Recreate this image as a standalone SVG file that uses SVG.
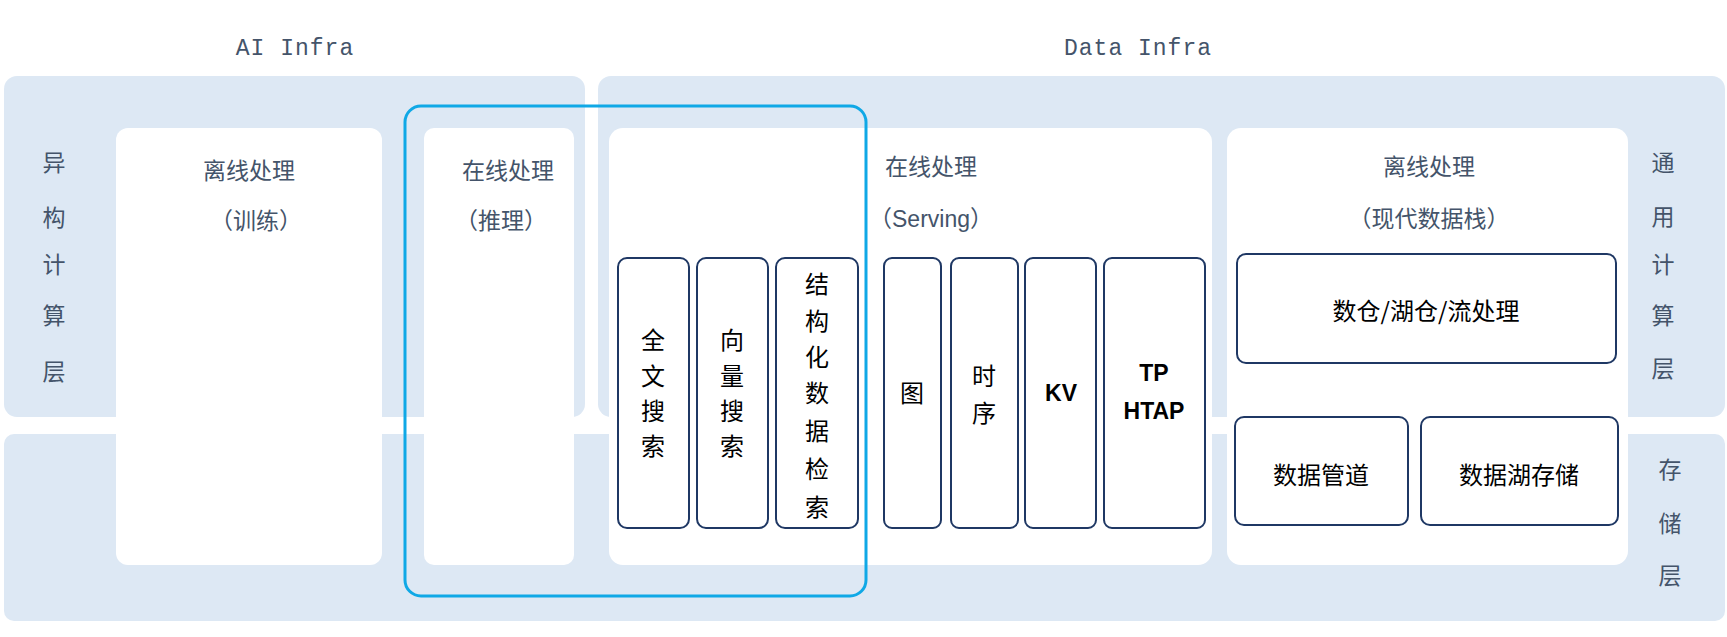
<svg xmlns="http://www.w3.org/2000/svg" width="1727" height="637" viewBox="0 0 1727 637">
<style>
.band{fill:#dde8f4}
.panel{fill:#fff}
.box{fill:#fff;stroke:#1f3864;stroke-width:2}
.lbl{font-family:"Liberation Sans","Noto Sans CJK SC",sans-serif;font-size:23px;fill:#44546a;text-anchor:middle}
.hd{font-family:"Liberation Mono","Noto Sans CJK SC",monospace;font-size:23px;fill:#44546a;text-anchor:middle;letter-spacing:1px}
.t{font-family:"Noto Sans CJK SC",sans-serif;font-size:24px;fill:#000;text-anchor:middle}
.b{font-family:"Liberation Sans",sans-serif;font-size:23px;font-weight:bold;fill:#000;text-anchor:middle}
</style>
<rect width="1727" height="637" fill="#fff"/>
<g id="bands">
<rect class="band" x="4" y="76" width="581" height="341" rx="13"/>
<rect class="band" x="598" y="76" width="1127" height="341" rx="13"/>
<rect class="band" x="4" y="434" width="1721" height="187" rx="10"/>
</g>
<text class="hd" x="295" y="55">AI Infra</text>
<text class="hd" x="1138" y="55">Data Infra</text>
<g id="left-label" class="lbl">
<text x="54" y="171">异</text><text x="54" y="226">构</text><text x="54" y="273">计</text><text x="54" y="324">算</text><text x="54" y="380">层</text>
</g>
<g id="right-label" class="lbl">
<text x="1663" y="171">通</text><text x="1663" y="225">用</text><text x="1663" y="273">计</text><text x="1663" y="324">算</text><text x="1663" y="377">层</text>
<text x="1670" y="478">存</text><text x="1670" y="532">储</text><text x="1670" y="584">层</text>
</g>
<g id="ai-offline"><rect class="panel" x="116" y="128" width="266" height="437" rx="12"/>
<text class="lbl" x="249" y="179">离线处理</text><text class="lbl" x="256" y="229">（训练）</text></g>
<g id="ai-online"><rect class="panel" x="424" y="128" width="150" height="437" rx="10"/>
<text class="lbl" x="508" y="179">在线处理</text><text class="lbl" x="501" y="229">（推理）</text></g>
<g id="data-online"><rect class="panel" x="609" y="128" width="603" height="437" rx="14"/>
<text class="lbl" x="931" y="175">在线处理</text><text class="lbl" x="931" y="227">（Serving）</text></g>
<g id="data-offline"><rect class="panel" x="1227" y="128" width="401" height="437" rx="14"/>
<text class="lbl" x="1429" y="175">离线处理</text><text class="lbl" x="1429" y="227">（现代数据栈）</text></g>
<g id="fulltext"><rect class="box" x="618" y="258" width="71" height="270" rx="9"/>
<text class="t" x="653" y="349">全</text><text class="t" x="653" y="385">文</text><text class="t" x="653" y="420">搜</text><text class="t" x="653" y="455">索</text></g>
<g id="vector"><rect class="box" x="697" y="258" width="71" height="270" rx="9"/>
<text class="t" x="732" y="349">向</text><text class="t" x="732" y="385">量</text><text class="t" x="732" y="420">搜</text><text class="t" x="732" y="455">索</text></g>
<g id="structured"><rect class="box" x="776" y="258" width="82" height="270" rx="9"/>
<text class="t" x="817" y="293">结</text><text class="t" x="817" y="330">构</text><text class="t" x="817" y="366">化</text><text class="t" x="817" y="402">数</text><text class="t" x="817" y="440">据</text><text class="t" x="817" y="478">检</text><text class="t" x="817" y="516">索</text></g>
<g id="graph"><rect class="box" x="884" y="258" width="57" height="270" rx="8"/><text class="t" x="912" y="402">图</text></g>
<g id="ts"><rect class="box" x="951" y="258" width="67" height="270" rx="8"/><text class="t" x="984" y="385">时</text><text class="t" x="984" y="422">序</text></g>
<g id="kv"><rect class="box" x="1025" y="258" width="71" height="270" rx="8"/><text class="b" x="1061" y="401">KV</text></g>
<g id="htap"><rect class="box" x="1104" y="258" width="101" height="270" rx="8"/><text class="b" x="1154" y="381">TP</text><text class="b" x="1154" y="419">HTAP</text></g>
<g id="warehouse"><rect class="box" x="1237" y="254" width="379" height="109" rx="9"/><text class="t" x="1426" y="320">数仓/湖仓/流处理</text></g>
<g id="pipeline"><rect class="box" x="1235" y="417" width="173" height="108" rx="9"/><text class="t" x="1321" y="484">数据管道</text></g>
<g id="lakestore"><rect class="box" x="1421" y="417" width="197" height="108" rx="9"/><text class="t" x="1519" y="484">数据湖存储</text></g>
<g id="connectors"><rect x="405" y="106" width="461" height="490" rx="16" fill="none" stroke="#0fa8e6" stroke-width="3"/></g>
</svg>
